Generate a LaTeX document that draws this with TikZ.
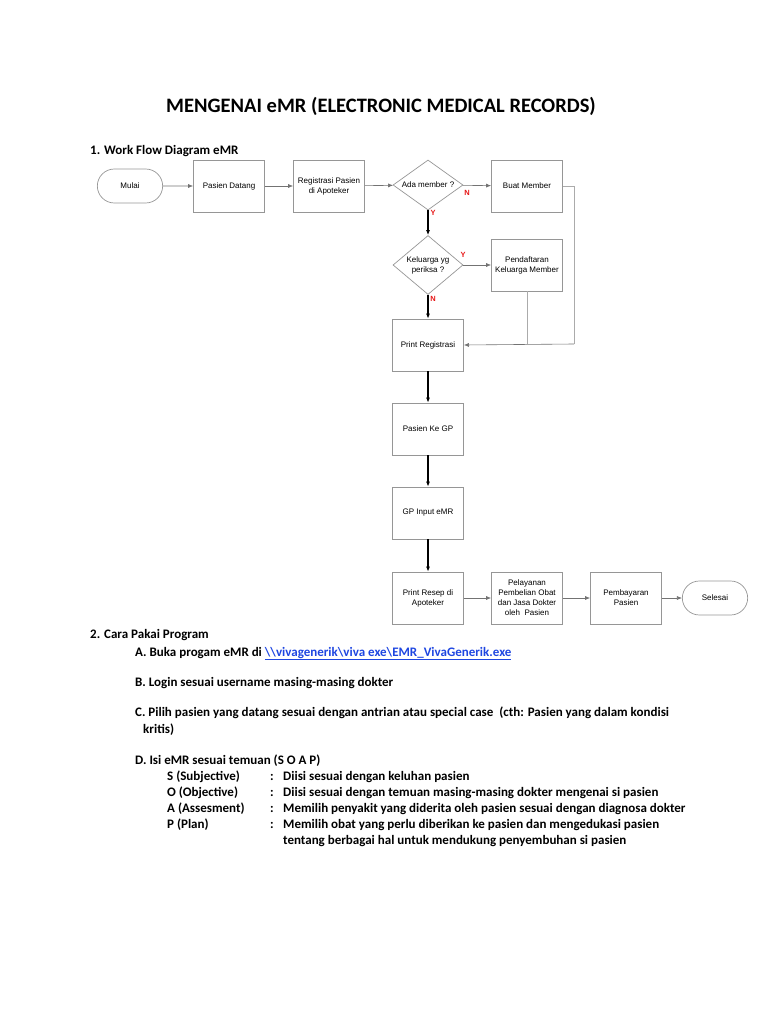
\documentclass[tikz,border=0pt]{standalone}
\usepackage{fontspec}
\setmainfont{Carlito}
\newfontfamily\flowfont{Liberation Sans}
\usetikzlibrary{shapes.geometric,shapes.misc,arrows.meta}
\definecolor{linkblue}{RGB}{30,70,225}
\definecolor{boxgray}{RGB}{150,150,150}
\definecolor{flagred}{RGB}{230,20,20}

\begin{document}
\begin{tikzpicture}[x=1pt,y=-1pt,
    process/.style ={rectangle, draw=boxgray, line width=0.7pt, minimum width=71pt, minimum height=52pt, align=center, inner sep=1pt, font=\flowfont\fontsize{8}{10}\selectfont},
    decision/.style ={diamond, draw=boxgray, line width=0.7pt, minimum width=70pt, minimum height=52pt, aspect=1.3, inner sep=0pt, align=center, font=\flowfont\fontsize{8}{10}\selectfont},
    terminal/.style ={rounded rectangle, draw=boxgray, line width=0.7pt, minimum width=72pt, minimum height=34pt, font=\flowfont\fontsize{8}{10}\selectfont},
    flow/.style ={draw=gray!90!black, line width=0.6pt, -{Latex[length=5pt,width=4pt]}},
    mainflow/.style ={draw=black, line width=1.1pt, -{Latex[length=5pt,width=4pt]}},
    feed/.style ={draw=boxgray!80, line width=0.8pt},
    flag/.style ={text=flagred, font=\flowfont\bfseries\fontsize{7.5}{9}\selectfont, inner sep=0pt},
    txt/.style ={anchor=base west, inner sep=0pt, font=\bfseries\fontsize{13}{16}\selectfont}]
   \useasboundingbox (0,0) rectangle (768,1024);

   \node[font=\bfseries\fontsize{20.5}{24}\selectfont, anchor=base] (title) at (381,113) {MENGENAI eMR (ELECTRONIC MEDICAL RECORDS)};
   \node[txt] (sec1) at (90,155) {1. Work Flow Diagram eMR};

   \node[terminal] (mulai)  at (130,186)  {Mulai};
   \node[process] (datang)  at (229,186)  {Pasien Datang};
   \node[process] (regis)  at (329,186)  {Registrasi Pasien\\di Apoteker};
   \node[decision, minimum height=50pt] (member)  at (428,185)  {Ada member ?};
   \node[process] (buat)  at (527,186)  {Buat Member};
   \node[decision, minimum height=59pt] (keluarga)  at (428,265)  {Keluarga yg\\periksa ?};
   \node[process] (daftar)  at (527,265)  {Pendaftaran\\Keluarga Member};
   \node[process] (printreg)  at (428,345)  {Print Registrasi};
   \node[process] (gp)  at (428,429)  {Pasien Ke GP};
   \node[process] (input)  at (428,513)  {GP Input eMR};
   \node[process] (resep)  at (428,598)  {Print Resep di\\Apoteker};
   \node[process] (layan)  at (527,598)  {Pelayanan\\Pembelian Obat\\dan Jasa Dokter\\oleh\ \ Pasien};
   \node[process] (bayar)  at (626,598)  {Pembayaran\\Pasien};
   \node[terminal] (selesai)  at (715,598)  {Selesai};
   \coordinate (back) at (574,344);

   \draw[flow] (mulai) to (datang);
   \draw[flow] (datang) to (regis);
   \draw[flow] (regis) to (member);
   \draw[flow] (member) to (buat);
   \draw[mainflow] (member) to (keluarga);
   \draw[flow] (keluarga) to (daftar);
   \draw[mainflow] (keluarga) to (printreg);
   \draw[feed] (buat.east) -| (back);
   \draw[feed] (daftar.south) -- (daftar.south |- back);
   \draw[flow] (back) -- (printreg.east);
   \draw[mainflow] (printreg) to (gp);
   \draw[mainflow] (gp) to (input);
   \draw[mainflow] (input) to (resep);
   \draw[flow] (resep) to (layan);
   \draw[flow] (layan) to (bayar);
   \draw[flow] (bayar) to (selesai);

   \node[flag] (n1) at (467,193) {N};
   \node[flag] (y1) at (433,213) {Y};
   \node[flag] (y2) at (463,255) {Y};
   \node[flag] (n2) at (433,299) {N};

   \node[txt] (sec2) at (90,638) {2. Cara Pakai Program};
   \node[txt] (a) at (135,656) {A. Buka progam eMR di \textcolor{linkblue}{\underline{\textbackslash\textbackslash vivagenerik\textbackslash viva exe\textbackslash EMR\_VivaGenerik.exe}}};
   \node[txt] (b) at (135,686) {B. Login sesuai username masing-masing dokter};
   \node[txt] (c) at (135,716) {C. Pilih pasien yang datang sesuai dengan antrian atau special case \ (cth: Pasien yang dalam kondisi};
   \node[txt] (c2) at (143,733) {kritis)};
   \node[txt] (d) at (135,764) {D. Isi eMR sesuai temuan (S O A P)};
   \foreach \lbl/\desc/\yy in {S (Subjective)/Diisi sesuai dengan keluhan pasien/780,
       O (Objective)/Diisi sesuai dengan temuan masing-masing dokter mengenai si pasien/796,
       A (Assesment)/Memilih penyakit yang diderita oleh pasien sesuai dengan diagnosa dokter/812,
       P (Plan)/Memilih obat yang perlu diberikan ke pasien dan mengedukasi pasien/828}
   {
     \node[txt] at (167,\yy) {\lbl};
     \node[txt] at (270,\yy) {:};
     \node[txt] at (283,\yy) {\desc};
   }
   \node[txt] (p2) at (283,844) {tentang berbagai hal untuk mendukung penyembuhan si pasien};

 \end{tikzpicture}
\end{document}
